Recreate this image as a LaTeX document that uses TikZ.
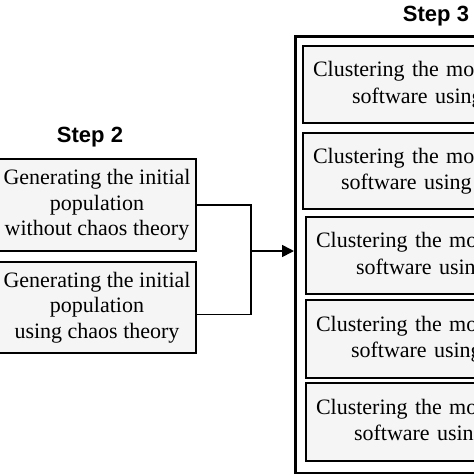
\documentclass[tikz,border=0pt]{standalone}
\usepackage{fontspec}
\setmainfont{Liberation Serif}
\newfontfamily\stepfont{Liberation Sans}
\usetikzlibrary{arrows.meta}

\begin{document}
\begin{tikzpicture}[x=1pt,y=-1pt,join=miter,
   genbox/.style={draw,line width=2pt,fill=black!4,inner sep=0pt,minimum width=198pt,
      align=center,font=\fontsize{22}{25.5}\selectfont},
   clubox/.style={draw,line width=2pt,fill=black!4,anchor=north west,inner xsep=10pt,inner ysep=0pt,
      text width=300pt,align=left,font=\fontsize{22}{26.5}\selectfont},
   framebox/.style={draw,line width=3pt,fill=white,anchor=north west,minimum width=260pt,minimum height=437pt},
   steplabel/.style={anchor=base,font=\stepfont\bfseries\fontsize{22}{26}\selectfont},
   link/.style={line width=1.6pt}] % Step 2 -> Step 3
         \useasboundingbox (0,0) rectangle (474,474);
         \clip (0,0) rectangle (474,474);
         % step 2
         \node[steplabel] (s2) at (90,142) {Step 2};
         \node[genbox,minimum height=92pt] (gen1) at (97,205) {Generating the initial\\population\\without chaos theory};
         \node[genbox,minimum height=91pt] (gen2) at (97,307.5) {Generating the initial\\population\\using chaos theory};
         % step 3
         \node[steplabel] (s3) at (436,21) {Step 3};
         \node[framebox] (frame) at (294,35) {};
         \node[clubox,minimum height=77pt] (clu1) at (302,45) {Clustering the modules\\\hspace*{39pt}software using};
         \node[clubox,minimum height=76pt] (clu2) at (302,132) {Clustering the modules\\\hspace*{28pt}software using};
         \node[clubox,minimum height=77pt] (clu3) at (305,216) {Clustering the modules\\\hspace*{40pt}software using};
         \node[clubox,minimum height=78pt] (clu4) at (305,299) {Clustering the modules\\\hspace*{35pt}software using};
         \node[clubox,minimum height=78pt] (clu5) at (305,382) {Clustering the modules\\\hspace*{38pt}software using};
         % connectors
         \coordinate (junc) at (251,251);
         \draw[link] (gen1.east) -| (junc);
         \draw[link] ([yshift=-7pt]gen2.east) -| (junc);
         \draw[link,-{Triangle[length=12pt,width=12pt]}] (junc) -- (frame.west |- junc);
      \end{tikzpicture}
\end{document}
